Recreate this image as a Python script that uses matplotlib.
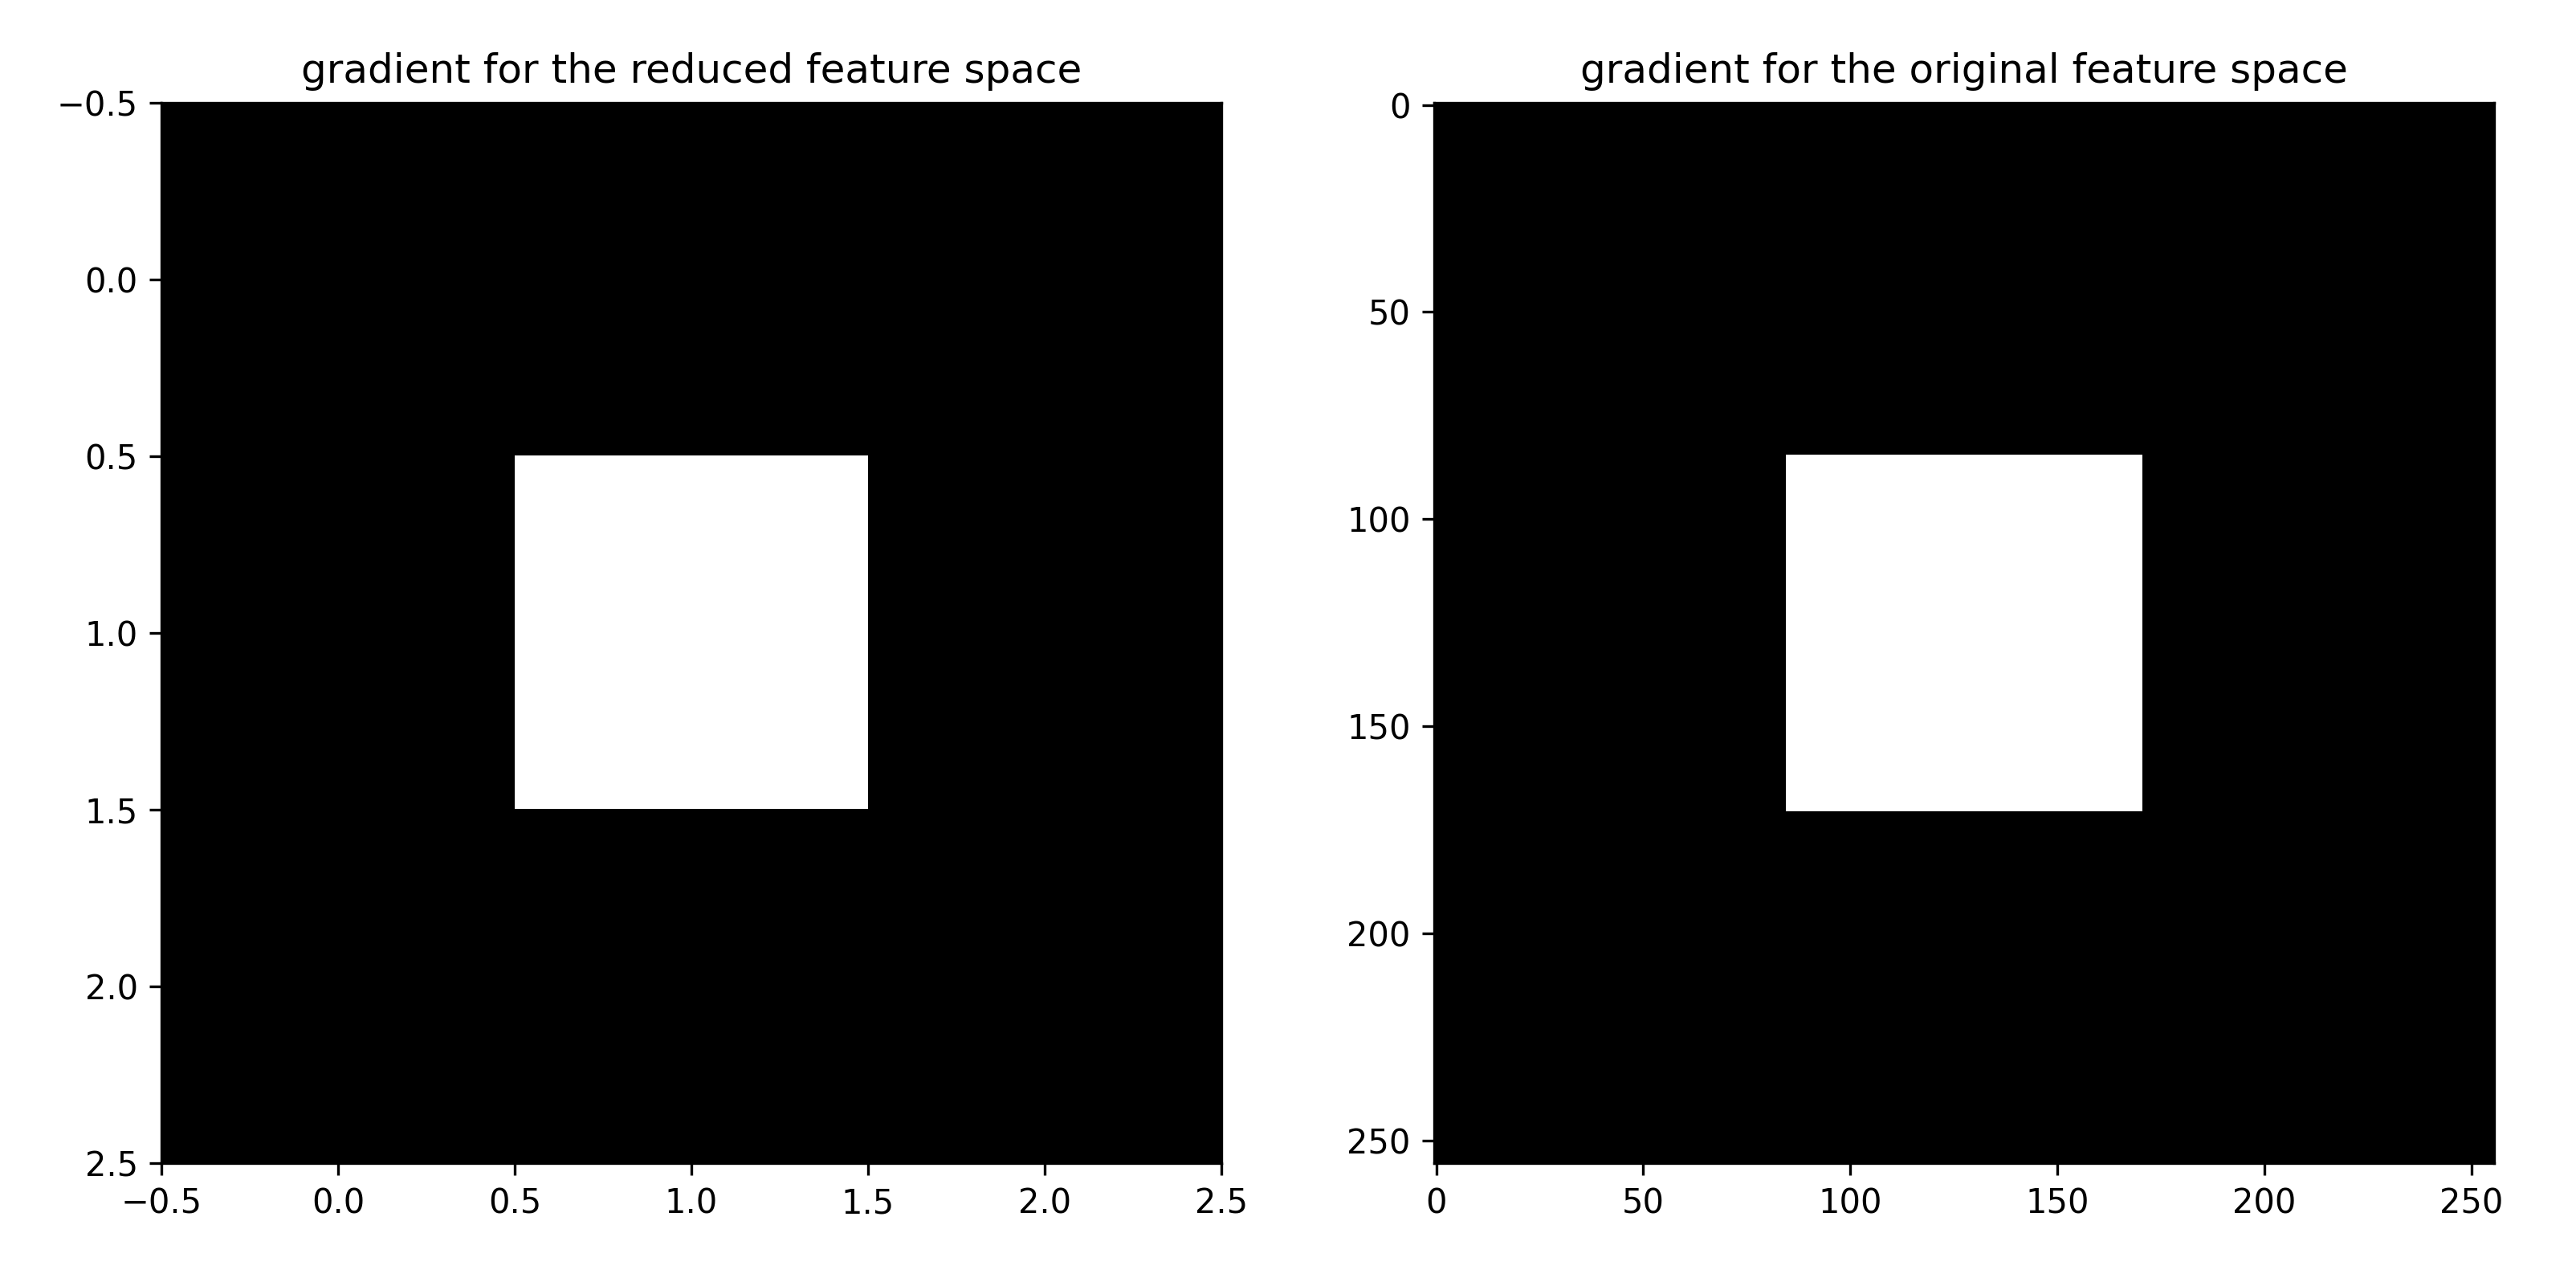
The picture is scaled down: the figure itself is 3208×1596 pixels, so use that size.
import numpy as np
import matplotlib
matplotlib.use('Agg')
import matplotlib.pyplot as plt

# gradient on the 3x3 reduced grid
grad_reduced = [[0, 0, 0],
                [0, 1, 0],
                [0, 0, 0]]
full_size = 256
titles = ['gradient for the reduced feature space', 'gradient for the original feature space']

red = np.array(grad_reduced, dtype=float)
# nearest neighbour upsampling back to the original feature space
idx = np.clip(np.round((np.arange(full_size) + 0.5) * red.shape[0] / full_size - 0.5).astype(int), 0, red.shape[0] - 1)
grad_full = red[np.ix_(idx, idx)]

fig = plt.figure(figsize=(3208 / 300, 1596 / 300), dpi=300)
ax1 = fig.add_axes([201 / 3208, 148 / 1596, 1320 / 3208, 1320 / 1596])
ax2 = fig.add_axes([1786 / 3208, 148 / 1596, 1320 / 3208, 1320 / 1596])

ax1.imshow(red, cmap='gray')
ax1.set_title(titles[0])
ax2.imshow(grad_full, cmap='gray')
ax2.set_title(titles[1])

fig.savefig('out.png', dpi=300)
